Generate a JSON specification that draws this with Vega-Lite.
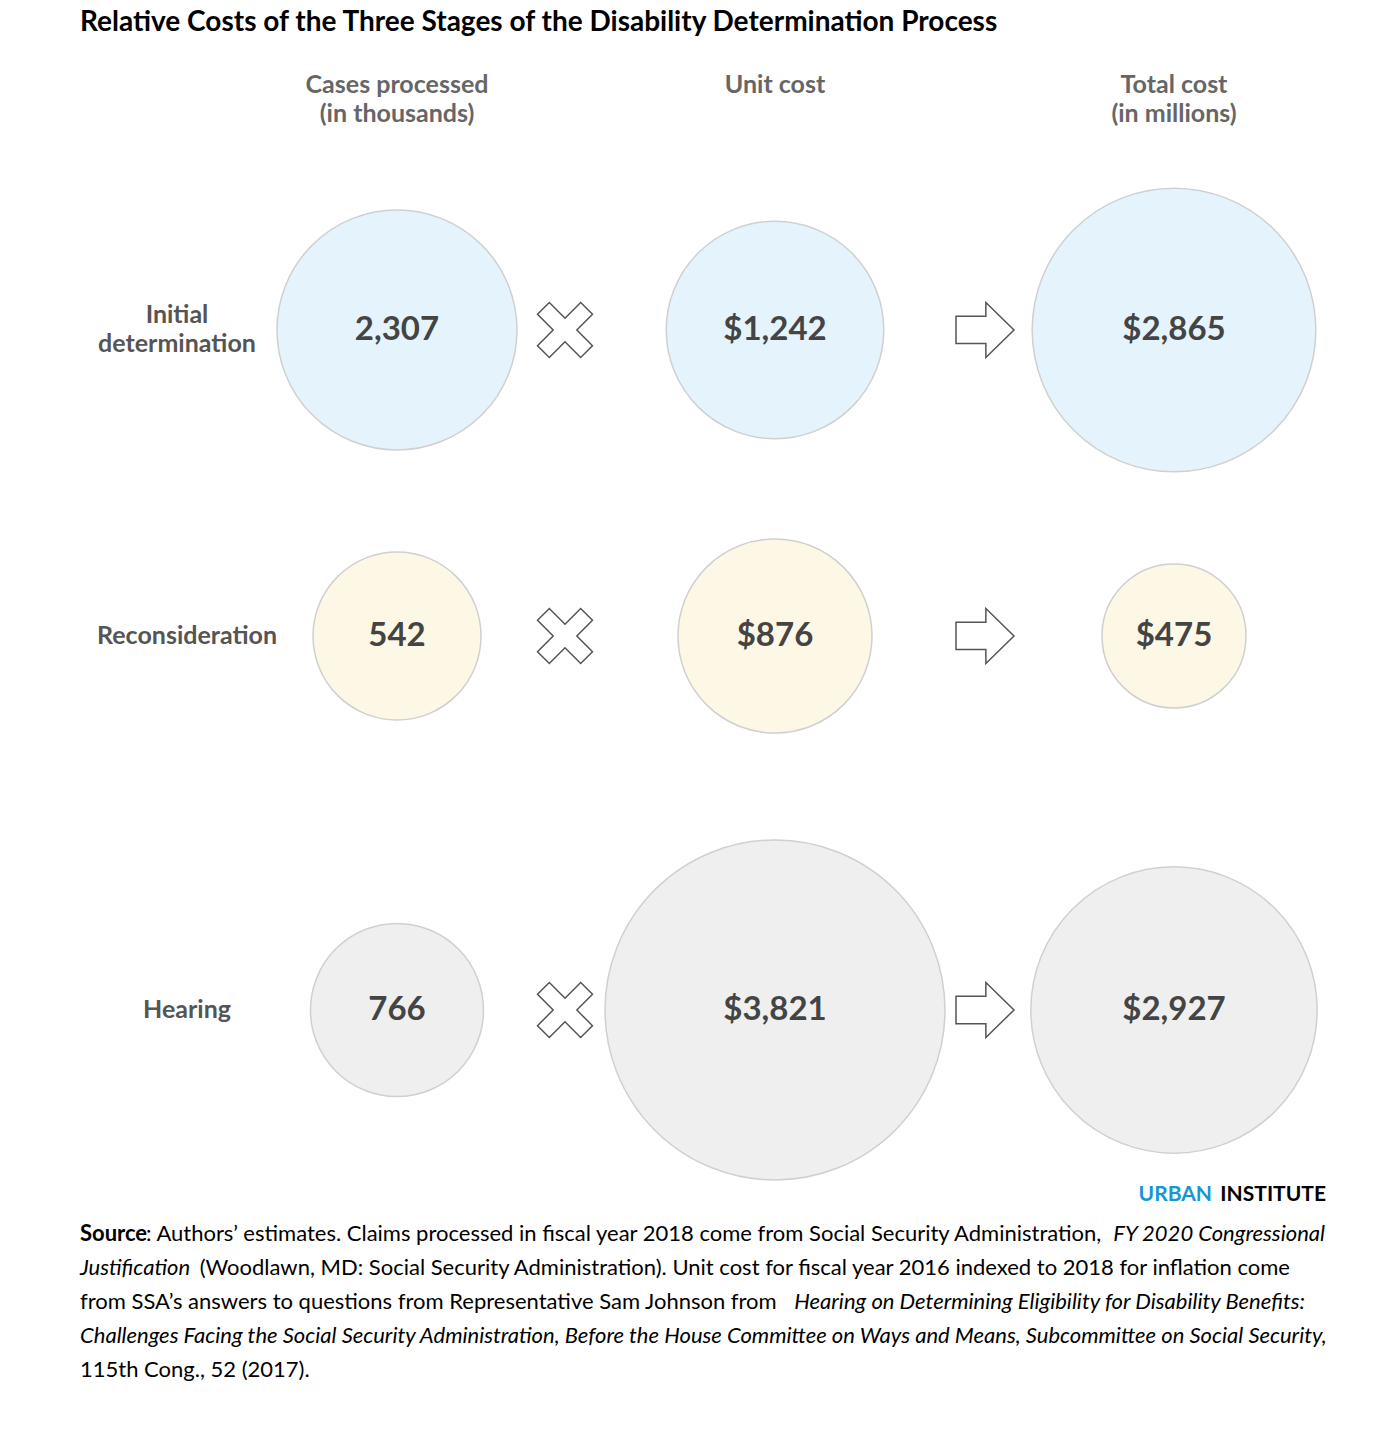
{
  "$schema": "https://vega.github.io/schema/vega-lite/v6.json",
  "width": 1245,
  "height": 1355,
  "autosize": {"type": "none"},
  "padding": {"left": 80, "right": 67, "top": 45, "bottom": 29},
  "background": "white",
  "config": {"view": {"stroke": null}, "text": {"font": "Lato"}},
  "title": {
    "text": "Relative Costs of the Three Stages of the Disability Determination Process",
    "anchor": "start",
    "frame": "group",
    "font": "Lato",
    "fontSize": 28,
    "fontWeight": "bold",
    "color": "#000000",
    "offset": 8
  },
  "datasets": {
    "stages": [
      {"stage": "Initial determination", "measure": "cases", "value": 2307},
      {"stage": "Initial determination", "measure": "unit", "value": 1242},
      {"stage": "Initial determination", "measure": "total", "value": 2865},
      {"stage": "Reconsideration", "measure": "cases", "value": 542},
      {"stage": "Reconsideration", "measure": "unit", "value": 876},
      {"stage": "Reconsideration", "measure": "total", "value": 475},
      {"stage": "Hearing", "measure": "cases", "value": 766},
      {"stage": "Hearing", "measure": "unit", "value": 3821},
      {"stage": "Hearing", "measure": "total", "value": 2927}
    ],
    "headers": [
      {"measure": "cases", "label": "Cases processed\n(in thousands)"},
      {"measure": "unit", "label": "Unit cost"},
      {"measure": "total", "label": "Total cost\n(in millions)"}
    ]
  },
  "resolve": {"scale": {"size": "independent"}},
  "layer": [
    {
      "data": {"name": "stages"},
      "transform": [{"filter": "datum.measure == 'cases'"}],
      "mark": {"type": "point", "shape": "circle", "filled": true, "opacity": 1, "stroke": "#d0d0d0", "strokeWidth": 1.5},
      "encoding": {
        "x": {"field": "measure", "type": "nominal", "axis": null, "scale": {"type": "point", "domain": ["left","_l1","_l2","_l3","_l4","label","_x1","_x2","_x3","_x4","_x5","_x6","_x7","_x8","_x9","cases","_x10","_x11","_x12","_x13","_x14","_x15","_x16","times","_x17","_x18","_x19","_x20","_x21","_x22","_x23","_x24","_x25","unit","_x26","_x27","_x28","_x29","_x30","_x31","_x32","_x33","_x34","arrow","_x35","_x36","_x37","_x38","_x39","_x40","_x41","_x42","total","_r1","_r2","_r3","_r4","_r5","_r6","right"], "padding": 0.143, "align": 0.333}},
        "y": {"field": "stage", "type": "nominal", "axis": null, "scale": {"type": "point", "domain": ["_y0","header","_y1","_y2","_y3","_y4","_y5","_y6","Initial determination","_y7","_y8","_y9","_y10","_y11","_y12","_y13","_y14","Reconsideration","_y15","_y16","_y17","_y18","_y19","_y20","_y21","_y22","_y23","_y24","Hearing","_y25","_y26","_y27","_y28","logo","_y29","n1","n2","n3","n4","n5"], "padding": 0.426, "align": 0.448}},
        "fill": {"field": "stage", "type": "nominal", "legend": null, "scale": {"domain": ["Initial determination", "Reconsideration", "Hearing"], "range": ["#e5f3fc", "#fdf7e6", "#efefef"]}},
        "size": {"field": "value", "type": "quantitative", "legend": null, "scale": {"type": "pow", "exponent": 2, "domain": [542, 2307], "range": [28224, 57600]}}
      }
    },
    {
      "data": {"name": "stages"},
      "transform": [{"filter": "datum.measure == 'unit'"}],
      "mark": {"type": "point", "shape": "circle", "filled": true, "opacity": 1, "stroke": "#d0d0d0", "strokeWidth": 1.5},
      "encoding": {
        "x": {"field": "measure", "type": "nominal", "axis": null, "scale": {"type": "point", "domain": ["left","_l1","_l2","_l3","_l4","label","_x1","_x2","_x3","_x4","_x5","_x6","_x7","_x8","_x9","cases","_x10","_x11","_x12","_x13","_x14","_x15","_x16","times","_x17","_x18","_x19","_x20","_x21","_x22","_x23","_x24","_x25","unit","_x26","_x27","_x28","_x29","_x30","_x31","_x32","_x33","_x34","arrow","_x35","_x36","_x37","_x38","_x39","_x40","_x41","_x42","total","_r1","_r2","_r3","_r4","_r5","_r6","right"], "padding": 0.143, "align": 0.333}},
        "y": {"field": "stage", "type": "nominal", "axis": null, "scale": {"type": "point", "domain": ["_y0","header","_y1","_y2","_y3","_y4","_y5","_y6","Initial determination","_y7","_y8","_y9","_y10","_y11","_y12","_y13","_y14","Reconsideration","_y15","_y16","_y17","_y18","_y19","_y20","_y21","_y22","_y23","_y24","Hearing","_y25","_y26","_y27","_y28","logo","_y29","n1","n2","n3","n4","n5"], "padding": 0.426, "align": 0.448}},
        "fill": {"field": "stage", "type": "nominal", "legend": null, "scale": {"domain": ["Initial determination", "Reconsideration", "Hearing"], "range": ["#e5f3fc", "#fdf7e6", "#efefef"]}},
        "size": {"field": "value", "type": "quantitative", "legend": null, "scale": {"type": "linear", "domain": [876, 3821], "range": [37636, 115600]}}
      }
    },
    {
      "data": {"name": "stages"},
      "transform": [{"filter": "datum.measure == 'total'"}],
      "mark": {"type": "point", "shape": "circle", "filled": true, "opacity": 1, "stroke": "#d0d0d0", "strokeWidth": 1.5},
      "encoding": {
        "x": {"field": "measure", "type": "nominal", "axis": null, "scale": {"type": "point", "domain": ["left","_l1","_l2","_l3","_l4","label","_x1","_x2","_x3","_x4","_x5","_x6","_x7","_x8","_x9","cases","_x10","_x11","_x12","_x13","_x14","_x15","_x16","times","_x17","_x18","_x19","_x20","_x21","_x22","_x23","_x24","_x25","unit","_x26","_x27","_x28","_x29","_x30","_x31","_x32","_x33","_x34","arrow","_x35","_x36","_x37","_x38","_x39","_x40","_x41","_x42","total","_r1","_r2","_r3","_r4","_r5","_r6","right"], "padding": 0.143, "align": 0.333}},
        "y": {"field": "stage", "type": "nominal", "axis": null, "scale": {"type": "point", "domain": ["_y0","header","_y1","_y2","_y3","_y4","_y5","_y6","Initial determination","_y7","_y8","_y9","_y10","_y11","_y12","_y13","_y14","Reconsideration","_y15","_y16","_y17","_y18","_y19","_y20","_y21","_y22","_y23","_y24","Hearing","_y25","_y26","_y27","_y28","logo","_y29","n1","n2","n3","n4","n5"], "padding": 0.426, "align": 0.448}},
        "fill": {"field": "stage", "type": "nominal", "legend": null, "scale": {"domain": ["Initial determination", "Reconsideration", "Hearing"], "range": ["#e5f3fc", "#fdf7e6", "#efefef"]}},
        "size": {"field": "value", "type": "quantitative", "legend": null, "scale": {"type": "linear", "domain": [475, 2927], "range": [20736, 82000]}}
      }
    },
    {
      "data": {"name": "stages"},
      "transform": [{"filter": "datum.measure == 'cases'"}],
      "mark": {"type": "text", "font": "Lato", "fontSize": 33, "fontWeight": "bold", "color": "#444444", "align": "center", "baseline": "middle"},
      "encoding": {
        "x": {"field": "measure", "type": "nominal", "axis": null, "scale": {"type": "point", "domain": ["left","_l1","_l2","_l3","_l4","label","_x1","_x2","_x3","_x4","_x5","_x6","_x7","_x8","_x9","cases","_x10","_x11","_x12","_x13","_x14","_x15","_x16","times","_x17","_x18","_x19","_x20","_x21","_x22","_x23","_x24","_x25","unit","_x26","_x27","_x28","_x29","_x30","_x31","_x32","_x33","_x34","arrow","_x35","_x36","_x37","_x38","_x39","_x40","_x41","_x42","total","_r1","_r2","_r3","_r4","_r5","_r6","right"], "padding": 0.143, "align": 0.333}},
        "y": {"field": "stage", "type": "nominal", "axis": null, "scale": {"type": "point", "domain": ["_y0","header","_y1","_y2","_y3","_y4","_y5","_y6","Initial determination","_y7","_y8","_y9","_y10","_y11","_y12","_y13","_y14","Reconsideration","_y15","_y16","_y17","_y18","_y19","_y20","_y21","_y22","_y23","_y24","Hearing","_y25","_y26","_y27","_y28","logo","_y29","n1","n2","n3","n4","n5"], "padding": 0.426, "align": 0.448}},
        "text": {"field": "value", "type": "quantitative", "format": ","}
      }
    },
    {
      "data": {"name": "stages"},
      "transform": [{"filter": "datum.measure != 'cases'"}],
      "mark": {"type": "text", "font": "Lato", "fontSize": 33, "fontWeight": "bold", "color": "#444444", "align": "center", "baseline": "middle"},
      "encoding": {
        "x": {"field": "measure", "type": "nominal", "axis": null, "scale": {"type": "point", "domain": ["left","_l1","_l2","_l3","_l4","label","_x1","_x2","_x3","_x4","_x5","_x6","_x7","_x8","_x9","cases","_x10","_x11","_x12","_x13","_x14","_x15","_x16","times","_x17","_x18","_x19","_x20","_x21","_x22","_x23","_x24","_x25","unit","_x26","_x27","_x28","_x29","_x30","_x31","_x32","_x33","_x34","arrow","_x35","_x36","_x37","_x38","_x39","_x40","_x41","_x42","total","_r1","_r2","_r3","_r4","_r5","_r6","right"], "padding": 0.143, "align": 0.333}},
        "y": {"field": "stage", "type": "nominal", "axis": null, "scale": {"type": "point", "domain": ["_y0","header","_y1","_y2","_y3","_y4","_y5","_y6","Initial determination","_y7","_y8","_y9","_y10","_y11","_y12","_y13","_y14","Reconsideration","_y15","_y16","_y17","_y18","_y19","_y20","_y21","_y22","_y23","_y24","Hearing","_y25","_y26","_y27","_y28","logo","_y29","n1","n2","n3","n4","n5"], "padding": 0.426, "align": 0.448}},
        "text": {"field": "value", "type": "quantitative", "format": "$,"}
      }
    },
    {
      "data": {"name": "stages"},
      "transform": [{"filter": "datum.measure == 'cases'"}],
      "mark": {"type": "point", "shape": "M 0 -0.43 L 0.57 -1 L 1 -0.57 L 0.43 0 L 1 0.57 L 0.57 1 L 0 0.43 L -0.57 1 L -1 0.57 L -0.43 0 L -1 -0.57 L -0.57 -1 Z", "size": 3025, "filled": true, "fill": "#ffffff", "stroke": "#555555", "strokeWidth": 1.5, "opacity": 1},
      "encoding": {
        "x": {"datum": "times", "type": "nominal", "axis": null, "scale": {"type": "point", "domain": ["left","_l1","_l2","_l3","_l4","label","_x1","_x2","_x3","_x4","_x5","_x6","_x7","_x8","_x9","cases","_x10","_x11","_x12","_x13","_x14","_x15","_x16","times","_x17","_x18","_x19","_x20","_x21","_x22","_x23","_x24","_x25","unit","_x26","_x27","_x28","_x29","_x30","_x31","_x32","_x33","_x34","arrow","_x35","_x36","_x37","_x38","_x39","_x40","_x41","_x42","total","_r1","_r2","_r3","_r4","_r5","_r6","right"], "padding": 0.143, "align": 0.333}},
        "y": {"field": "stage", "type": "nominal", "axis": null, "scale": {"type": "point", "domain": ["_y0","header","_y1","_y2","_y3","_y4","_y5","_y6","Initial determination","_y7","_y8","_y9","_y10","_y11","_y12","_y13","_y14","Reconsideration","_y15","_y16","_y17","_y18","_y19","_y20","_y21","_y22","_y23","_y24","Hearing","_y25","_y26","_y27","_y28","logo","_y29","n1","n2","n3","n4","n5"], "padding": 0.426, "align": 0.448}}
      }
    },
    {
      "data": {"name": "stages"},
      "transform": [{"filter": "datum.measure == 'cases'"}],
      "mark": {"type": "point", "shape": "M -1 -0.47 L 0.03 -0.47 L 0.03 -0.95 L 1 0 L 0.03 0.95 L 0.03 0.47 L -1 0.47 Z", "size": 3364, "filled": true, "fill": "#ffffff", "stroke": "#555555", "strokeWidth": 1.5, "opacity": 1},
      "encoding": {
        "x": {"datum": "arrow", "type": "nominal", "axis": null, "scale": {"type": "point", "domain": ["left","_l1","_l2","_l3","_l4","label","_x1","_x2","_x3","_x4","_x5","_x6","_x7","_x8","_x9","cases","_x10","_x11","_x12","_x13","_x14","_x15","_x16","times","_x17","_x18","_x19","_x20","_x21","_x22","_x23","_x24","_x25","unit","_x26","_x27","_x28","_x29","_x30","_x31","_x32","_x33","_x34","arrow","_x35","_x36","_x37","_x38","_x39","_x40","_x41","_x42","total","_r1","_r2","_r3","_r4","_r5","_r6","right"], "padding": 0.143, "align": 0.333}},
        "y": {"field": "stage", "type": "nominal", "axis": null, "scale": {"type": "point", "domain": ["_y0","header","_y1","_y2","_y3","_y4","_y5","_y6","Initial determination","_y7","_y8","_y9","_y10","_y11","_y12","_y13","_y14","Reconsideration","_y15","_y16","_y17","_y18","_y19","_y20","_y21","_y22","_y23","_y24","Hearing","_y25","_y26","_y27","_y28","logo","_y29","n1","n2","n3","n4","n5"], "padding": 0.426, "align": 0.448}}
      }
    },
    {
      "data": {"name": "stages"},
      "transform": [{"filter": "datum.measure == 'cases' && indexof(datum.stage, ' ') < 0"}],
      "mark": {"type": "text", "font": "Lato", "fontSize": 25, "fontWeight": "bold", "color": "#555555", "align": "center", "baseline": "middle"},
      "encoding": {
        "x": {"datum": "label", "type": "nominal", "axis": null, "scale": {"type": "point", "domain": ["left","_l1","_l2","_l3","_l4","label","_x1","_x2","_x3","_x4","_x5","_x6","_x7","_x8","_x9","cases","_x10","_x11","_x12","_x13","_x14","_x15","_x16","times","_x17","_x18","_x19","_x20","_x21","_x22","_x23","_x24","_x25","unit","_x26","_x27","_x28","_x29","_x30","_x31","_x32","_x33","_x34","arrow","_x35","_x36","_x37","_x38","_x39","_x40","_x41","_x42","total","_r1","_r2","_r3","_r4","_r5","_r6","right"], "padding": 0.143, "align": 0.333}},
        "y": {"field": "stage", "type": "nominal", "axis": null, "scale": {"type": "point", "domain": ["_y0","header","_y1","_y2","_y3","_y4","_y5","_y6","Initial determination","_y7","_y8","_y9","_y10","_y11","_y12","_y13","_y14","Reconsideration","_y15","_y16","_y17","_y18","_y19","_y20","_y21","_y22","_y23","_y24","Hearing","_y25","_y26","_y27","_y28","logo","_y29","n1","n2","n3","n4","n5"], "padding": 0.426, "align": 0.448}},
        "text": {"field": "stage", "type": "nominal"}
      }
    },
    {
      "data": {"name": "stages"},
      "transform": [{"filter": "datum.measure == 'cases' && indexof(datum.stage, ' ') >= 0"}],
      "mark": {"type": "text", "font": "Lato", "fontSize": 25, "fontWeight": "bold", "color": "#555555", "align": "center", "baseline": "middle", "lineBreak": " ", "lineHeight": 29, "dy": -14.5, "dx": -10},
      "encoding": {
        "x": {"datum": "label", "type": "nominal", "axis": null, "scale": {"type": "point", "domain": ["left","_l1","_l2","_l3","_l4","label","_x1","_x2","_x3","_x4","_x5","_x6","_x7","_x8","_x9","cases","_x10","_x11","_x12","_x13","_x14","_x15","_x16","times","_x17","_x18","_x19","_x20","_x21","_x22","_x23","_x24","_x25","unit","_x26","_x27","_x28","_x29","_x30","_x31","_x32","_x33","_x34","arrow","_x35","_x36","_x37","_x38","_x39","_x40","_x41","_x42","total","_r1","_r2","_r3","_r4","_r5","_r6","right"], "padding": 0.143, "align": 0.333}},
        "y": {"field": "stage", "type": "nominal", "axis": null, "scale": {"type": "point", "domain": ["_y0","header","_y1","_y2","_y3","_y4","_y5","_y6","Initial determination","_y7","_y8","_y9","_y10","_y11","_y12","_y13","_y14","Reconsideration","_y15","_y16","_y17","_y18","_y19","_y20","_y21","_y22","_y23","_y24","Hearing","_y25","_y26","_y27","_y28","logo","_y29","n1","n2","n3","n4","n5"], "padding": 0.426, "align": 0.448}},
        "text": {"field": "stage", "type": "nominal"}
      }
    },
    {
      "data": {"name": "headers"},
      "mark": {"type": "text", "font": "Lato", "fontSize": 25, "fontWeight": "bold", "color": "#666666", "align": "center", "baseline": "top", "lineBreak": "\n", "lineHeight": 29, "dy": -19},
      "encoding": {
        "x": {"field": "measure", "type": "nominal", "axis": null, "scale": {"type": "point", "domain": ["left","_l1","_l2","_l3","_l4","label","_x1","_x2","_x3","_x4","_x5","_x6","_x7","_x8","_x9","cases","_x10","_x11","_x12","_x13","_x14","_x15","_x16","times","_x17","_x18","_x19","_x20","_x21","_x22","_x23","_x24","_x25","unit","_x26","_x27","_x28","_x29","_x30","_x31","_x32","_x33","_x34","arrow","_x35","_x36","_x37","_x38","_x39","_x40","_x41","_x42","total","_r1","_r2","_r3","_r4","_r5","_r6","right"], "padding": 0.143, "align": 0.333}},
        "y": {"datum": "header", "type": "nominal", "axis": null, "scale": {"type": "point", "domain": ["_y0","header","_y1","_y2","_y3","_y4","_y5","_y6","Initial determination","_y7","_y8","_y9","_y10","_y11","_y12","_y13","_y14","Reconsideration","_y15","_y16","_y17","_y18","_y19","_y20","_y21","_y22","_y23","_y24","Hearing","_y25","_y26","_y27","_y28","logo","_y29","n1","n2","n3","n4","n5"], "padding": 0.426, "align": 0.448}},
        "text": {"field": "label", "type": "nominal"}
      }
    },
    {
      "data": {"values": [{"line": "logo", "text": "INSTITUTE"}]},
      "mark": {"type": "text", "font": "Lato", "fontSize": 21, "fontWeight": "bold", "color": "#000000", "align": "right", "baseline": "middle", "letterSpacing": 2, "dx": 5, "dy": 15},
      "encoding": {
        "x": {"datum": "right", "type": "nominal", "axis": null, "scale": {"type": "point", "domain": ["left","_l1","_l2","_l3","_l4","label","_x1","_x2","_x3","_x4","_x5","_x6","_x7","_x8","_x9","cases","_x10","_x11","_x12","_x13","_x14","_x15","_x16","times","_x17","_x18","_x19","_x20","_x21","_x22","_x23","_x24","_x25","unit","_x26","_x27","_x28","_x29","_x30","_x31","_x32","_x33","_x34","arrow","_x35","_x36","_x37","_x38","_x39","_x40","_x41","_x42","total","_r1","_r2","_r3","_r4","_r5","_r6","right"], "padding": 0.143, "align": 0.333}},
        "y": {"field": "line", "type": "nominal", "axis": null, "scale": {"type": "point", "domain": ["_y0","header","_y1","_y2","_y3","_y4","_y5","_y6","Initial determination","_y7","_y8","_y9","_y10","_y11","_y12","_y13","_y14","Reconsideration","_y15","_y16","_y17","_y18","_y19","_y20","_y21","_y22","_y23","_y24","Hearing","_y25","_y26","_y27","_y28","logo","_y29","n1","n2","n3","n4","n5"], "padding": 0.426, "align": 0.448}},
        "text": {"field": "text", "type": "nominal"}
      }
    },
    {
      "data": {"values": [{"line": "logo", "text": "URBAN"}]},
      "mark": {"type": "text", "font": "Lato", "fontSize": 21, "fontWeight": "bold", "color": "#1696d2", "align": "right", "baseline": "middle", "letterSpacing": 2, "dx": -109, "dy": 15},
      "encoding": {
        "x": {"datum": "right", "type": "nominal", "axis": null, "scale": {"type": "point", "domain": ["left","_l1","_l2","_l3","_l4","label","_x1","_x2","_x3","_x4","_x5","_x6","_x7","_x8","_x9","cases","_x10","_x11","_x12","_x13","_x14","_x15","_x16","times","_x17","_x18","_x19","_x20","_x21","_x22","_x23","_x24","_x25","unit","_x26","_x27","_x28","_x29","_x30","_x31","_x32","_x33","_x34","arrow","_x35","_x36","_x37","_x38","_x39","_x40","_x41","_x42","total","_r1","_r2","_r3","_r4","_r5","_r6","right"], "padding": 0.143, "align": 0.333}},
        "y": {"field": "line", "type": "nominal", "axis": null, "scale": {"type": "point", "domain": ["_y0","header","_y1","_y2","_y3","_y4","_y5","_y6","Initial determination","_y7","_y8","_y9","_y10","_y11","_y12","_y13","_y14","Reconsideration","_y15","_y16","_y17","_y18","_y19","_y20","_y21","_y22","_y23","_y24","Hearing","_y25","_y26","_y27","_y28","logo","_y29","n1","n2","n3","n4","n5"], "padding": 0.426, "align": 0.448}},
        "text": {"field": "text", "type": "nominal"}
      }
    },
    {
      "data": {"values": [{"line": "n1", "text": "Source"}]},
      "mark": {"type": "text", "font": "Lato", "fontSize": 22, "fontWeight": "bold", "color": "#000000", "align": "left", "baseline": "middle", "dx": -2, "dy": -14.5},
      "encoding": {
        "x": {"datum": "left", "type": "nominal", "axis": null, "scale": {"type": "point", "domain": ["left","_l1","_l2","_l3","_l4","label","_x1","_x2","_x3","_x4","_x5","_x6","_x7","_x8","_x9","cases","_x10","_x11","_x12","_x13","_x14","_x15","_x16","times","_x17","_x18","_x19","_x20","_x21","_x22","_x23","_x24","_x25","unit","_x26","_x27","_x28","_x29","_x30","_x31","_x32","_x33","_x34","arrow","_x35","_x36","_x37","_x38","_x39","_x40","_x41","_x42","total","_r1","_r2","_r3","_r4","_r5","_r6","right"], "padding": 0.143, "align": 0.333}},
        "y": {"field": "line", "type": "nominal", "axis": null, "scale": {"type": "point", "domain": ["_y0","header","_y1","_y2","_y3","_y4","_y5","_y6","Initial determination","_y7","_y8","_y9","_y10","_y11","_y12","_y13","_y14","Reconsideration","_y15","_y16","_y17","_y18","_y19","_y20","_y21","_y22","_y23","_y24","Hearing","_y25","_y26","_y27","_y28","logo","_y29","n1","n2","n3","n4","n5"], "padding": 0.426, "align": 0.448}},
        "text": {"field": "text", "type": "nominal"}
      }
    },
    {
      "data": {"values": [{"line": "n1", "text": ": Authors’ estimates. Claims processed in fiscal year 2018 come from Social Security Administration,"}]},
      "mark": {"type": "text", "font": "Lato", "fontSize": 22, "color": "#000000", "align": "left", "baseline": "middle", "dx": 64, "dy": -14.5},
      "encoding": {
        "x": {"datum": "left", "type": "nominal", "axis": null, "scale": {"type": "point", "domain": ["left","_l1","_l2","_l3","_l4","label","_x1","_x2","_x3","_x4","_x5","_x6","_x7","_x8","_x9","cases","_x10","_x11","_x12","_x13","_x14","_x15","_x16","times","_x17","_x18","_x19","_x20","_x21","_x22","_x23","_x24","_x25","unit","_x26","_x27","_x28","_x29","_x30","_x31","_x32","_x33","_x34","arrow","_x35","_x36","_x37","_x38","_x39","_x40","_x41","_x42","total","_r1","_r2","_r3","_r4","_r5","_r6","right"], "padding": 0.143, "align": 0.333}},
        "y": {"field": "line", "type": "nominal", "axis": null, "scale": {"type": "point", "domain": ["_y0","header","_y1","_y2","_y3","_y4","_y5","_y6","Initial determination","_y7","_y8","_y9","_y10","_y11","_y12","_y13","_y14","Reconsideration","_y15","_y16","_y17","_y18","_y19","_y20","_y21","_y22","_y23","_y24","Hearing","_y25","_y26","_y27","_y28","logo","_y29","n1","n2","n3","n4","n5"], "padding": 0.426, "align": 0.448}},
        "text": {"field": "text", "type": "nominal"}
      }
    },
    {
      "data": {"values": [{"line": "n1", "text": "FY 2020 Congressional"}]},
      "mark": {"type": "text", "font": "Lato", "fontSize": 22, "fontStyle": "italic", "color": "#000000", "align": "right", "baseline": "middle", "dx": 4, "dy": -14.5},
      "encoding": {
        "x": {"datum": "right", "type": "nominal", "axis": null, "scale": {"type": "point", "domain": ["left","_l1","_l2","_l3","_l4","label","_x1","_x2","_x3","_x4","_x5","_x6","_x7","_x8","_x9","cases","_x10","_x11","_x12","_x13","_x14","_x15","_x16","times","_x17","_x18","_x19","_x20","_x21","_x22","_x23","_x24","_x25","unit","_x26","_x27","_x28","_x29","_x30","_x31","_x32","_x33","_x34","arrow","_x35","_x36","_x37","_x38","_x39","_x40","_x41","_x42","total","_r1","_r2","_r3","_r4","_r5","_r6","right"], "padding": 0.143, "align": 0.333}},
        "y": {"field": "line", "type": "nominal", "axis": null, "scale": {"type": "point", "domain": ["_y0","header","_y1","_y2","_y3","_y4","_y5","_y6","Initial determination","_y7","_y8","_y9","_y10","_y11","_y12","_y13","_y14","Reconsideration","_y15","_y16","_y17","_y18","_y19","_y20","_y21","_y22","_y23","_y24","Hearing","_y25","_y26","_y27","_y28","logo","_y29","n1","n2","n3","n4","n5"], "padding": 0.426, "align": 0.448}},
        "text": {"field": "text", "type": "nominal"}
      }
    },
    {
      "data": {"values": [{"line": "n2", "text": "Justification"}, {"line": "n4", "text": "Challenges Facing the Social Security Administration, Before the House Committee on Ways and Means, Subcommittee on Social Security,"}]},
      "mark": {"type": "text", "font": "Lato", "fontSize": 22, "fontStyle": "italic", "color": "#000000", "align": "left", "baseline": "middle", "dx": -2, "dy": -14.5},
      "encoding": {
        "x": {"datum": "left", "type": "nominal", "axis": null, "scale": {"type": "point", "domain": ["left","_l1","_l2","_l3","_l4","label","_x1","_x2","_x3","_x4","_x5","_x6","_x7","_x8","_x9","cases","_x10","_x11","_x12","_x13","_x14","_x15","_x16","times","_x17","_x18","_x19","_x20","_x21","_x22","_x23","_x24","_x25","unit","_x26","_x27","_x28","_x29","_x30","_x31","_x32","_x33","_x34","arrow","_x35","_x36","_x37","_x38","_x39","_x40","_x41","_x42","total","_r1","_r2","_r3","_r4","_r5","_r6","right"], "padding": 0.143, "align": 0.333}},
        "y": {"field": "line", "type": "nominal", "axis": null, "scale": {"type": "point", "domain": ["_y0","header","_y1","_y2","_y3","_y4","_y5","_y6","Initial determination","_y7","_y8","_y9","_y10","_y11","_y12","_y13","_y14","Reconsideration","_y15","_y16","_y17","_y18","_y19","_y20","_y21","_y22","_y23","_y24","Hearing","_y25","_y26","_y27","_y28","logo","_y29","n1","n2","n3","n4","n5"], "padding": 0.426, "align": 0.448}},
        "text": {"field": "text", "type": "nominal"}
      }
    },
    {
      "data": {"values": [{"line": "n2", "text": "(Woodlawn, MD: Social Security Administration). Unit cost for fiscal year 2016 indexed to 2018 for inflation come"}]},
      "mark": {"type": "text", "font": "Lato", "fontSize": 22, "color": "#000000", "align": "right", "baseline": "middle", "dx": -31, "dy": -14.5},
      "encoding": {
        "x": {"datum": "right", "type": "nominal", "axis": null, "scale": {"type": "point", "domain": ["left","_l1","_l2","_l3","_l4","label","_x1","_x2","_x3","_x4","_x5","_x6","_x7","_x8","_x9","cases","_x10","_x11","_x12","_x13","_x14","_x15","_x16","times","_x17","_x18","_x19","_x20","_x21","_x22","_x23","_x24","_x25","unit","_x26","_x27","_x28","_x29","_x30","_x31","_x32","_x33","_x34","arrow","_x35","_x36","_x37","_x38","_x39","_x40","_x41","_x42","total","_r1","_r2","_r3","_r4","_r5","_r6","right"], "padding": 0.143, "align": 0.333}},
        "y": {"field": "line", "type": "nominal", "axis": null, "scale": {"type": "point", "domain": ["_y0","header","_y1","_y2","_y3","_y4","_y5","_y6","Initial determination","_y7","_y8","_y9","_y10","_y11","_y12","_y13","_y14","Reconsideration","_y15","_y16","_y17","_y18","_y19","_y20","_y21","_y22","_y23","_y24","Hearing","_y25","_y26","_y27","_y28","logo","_y29","n1","n2","n3","n4","n5"], "padding": 0.426, "align": 0.448}},
        "text": {"field": "text", "type": "nominal"}
      }
    },
    {
      "data": {"values": [{"line": "n3", "text": "from SSA’s answers to questions from Representative Sam Johnson from"}, {"line": "n5", "text": "115th Cong., 52 (2017)."}]},
      "mark": {"type": "text", "font": "Lato", "fontSize": 22, "color": "#000000", "align": "left", "baseline": "middle", "dx": -2, "dy": -14.5},
      "encoding": {
        "x": {"datum": "left", "type": "nominal", "axis": null, "scale": {"type": "point", "domain": ["left","_l1","_l2","_l3","_l4","label","_x1","_x2","_x3","_x4","_x5","_x6","_x7","_x8","_x9","cases","_x10","_x11","_x12","_x13","_x14","_x15","_x16","times","_x17","_x18","_x19","_x20","_x21","_x22","_x23","_x24","_x25","unit","_x26","_x27","_x28","_x29","_x30","_x31","_x32","_x33","_x34","arrow","_x35","_x36","_x37","_x38","_x39","_x40","_x41","_x42","total","_r1","_r2","_r3","_r4","_r5","_r6","right"], "padding": 0.143, "align": 0.333}},
        "y": {"field": "line", "type": "nominal", "axis": null, "scale": {"type": "point", "domain": ["_y0","header","_y1","_y2","_y3","_y4","_y5","_y6","Initial determination","_y7","_y8","_y9","_y10","_y11","_y12","_y13","_y14","Reconsideration","_y15","_y16","_y17","_y18","_y19","_y20","_y21","_y22","_y23","_y24","Hearing","_y25","_y26","_y27","_y28","logo","_y29","n1","n2","n3","n4","n5"], "padding": 0.426, "align": 0.448}},
        "text": {"field": "text", "type": "nominal"}
      }
    },
    {
      "data": {"values": [{"line": "n3", "text": "Hearing on Determining Eligibility for Disability Benefits:"}]},
      "mark": {"type": "text", "font": "Lato", "fontSize": 22, "fontStyle": "italic", "color": "#000000", "align": "right", "baseline": "middle", "dx": -16, "dy": -14.5},
      "encoding": {
        "x": {"datum": "right", "type": "nominal", "axis": null, "scale": {"type": "point", "domain": ["left","_l1","_l2","_l3","_l4","label","_x1","_x2","_x3","_x4","_x5","_x6","_x7","_x8","_x9","cases","_x10","_x11","_x12","_x13","_x14","_x15","_x16","times","_x17","_x18","_x19","_x20","_x21","_x22","_x23","_x24","_x25","unit","_x26","_x27","_x28","_x29","_x30","_x31","_x32","_x33","_x34","arrow","_x35","_x36","_x37","_x38","_x39","_x40","_x41","_x42","total","_r1","_r2","_r3","_r4","_r5","_r6","right"], "padding": 0.143, "align": 0.333}},
        "y": {"field": "line", "type": "nominal", "axis": null, "scale": {"type": "point", "domain": ["_y0","header","_y1","_y2","_y3","_y4","_y5","_y6","Initial determination","_y7","_y8","_y9","_y10","_y11","_y12","_y13","_y14","Reconsideration","_y15","_y16","_y17","_y18","_y19","_y20","_y21","_y22","_y23","_y24","Hearing","_y25","_y26","_y27","_y28","logo","_y29","n1","n2","n3","n4","n5"], "padding": 0.426, "align": 0.448}},
        "text": {"field": "text", "type": "nominal"}
      }
    }
  ]
}
